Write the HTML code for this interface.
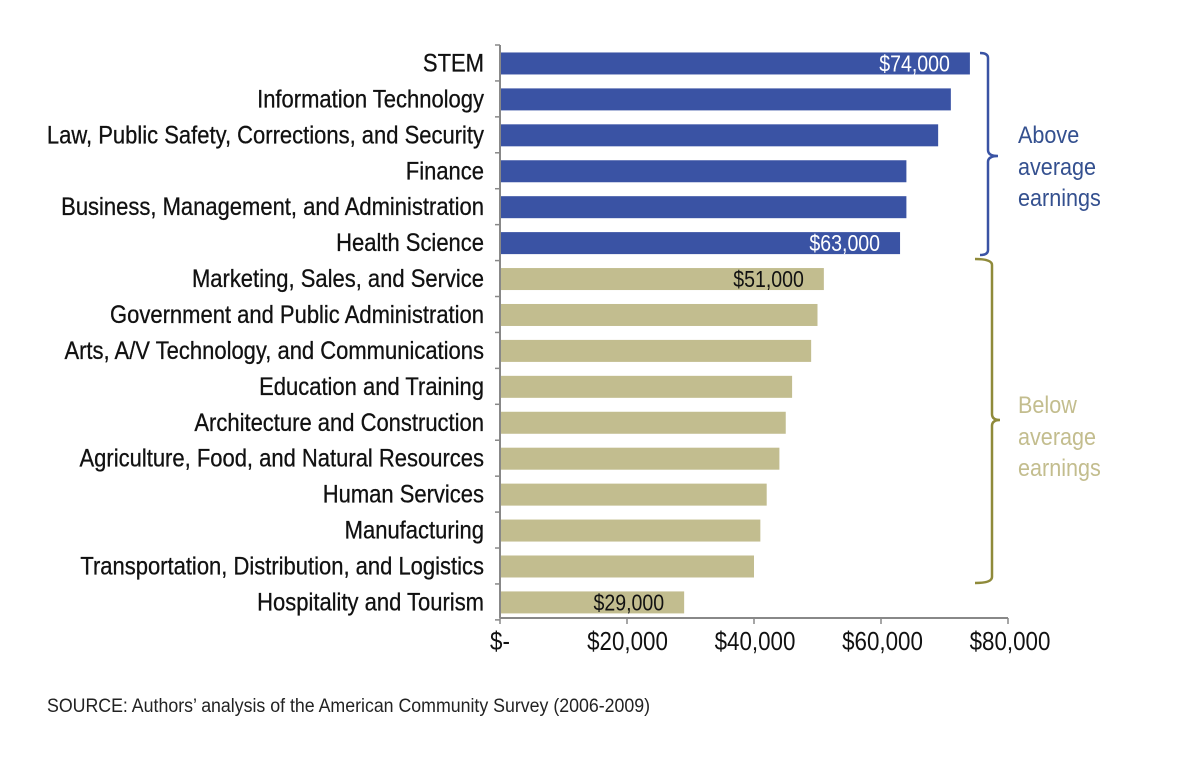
<!DOCTYPE html>
<html><head><meta charset="utf-8"><style>
body{margin:0;background:#fff;}
svg text{font-family:"Liberation Sans",sans-serif;}
</style></head><body>
<svg id="chart" width="1200" height="758" viewBox="0 0 1200 758" xmlns="http://www.w3.org/2000/svg">
<g id="bars"></g>
<g id="labels"></g>
<g id="axis"></g>
<g>
<path d="M980,53 Q988,53 988,58 L988,150 Q988,156 998,156 Q988,156 988,162 L988,250 Q988,255 980,255" fill="none" stroke="#3a53a4" stroke-width="2.5"/>
<text transform="translate(1018,143) scale(0.9,1)" font-size="24" fill="#34508f">Above</text>
<text transform="translate(1018,175) scale(0.9,1)" font-size="24" fill="#34508f">average</text>
<text transform="translate(1018,206) scale(0.9,1)" font-size="24" fill="#34508f">earnings</text>
</g>
<g>
<path d="M975,259 Q992,259 992,265 L992,414 Q992,420 1000,420 Q992,420 992,426 L992,577 Q992,583 975,583" fill="none" stroke="#8f8a3a" stroke-width="2.5"/>
<text transform="translate(1018,413) scale(0.9,1)" font-size="24" fill="#c3bd8e">Below</text>
<text transform="translate(1018,445) scale(0.9,1)" font-size="24" fill="#c3bd8e">average</text>
<text transform="translate(1018,476) scale(0.9,1)" font-size="24" fill="#c3bd8e">earnings</text>
</g>
<text transform="translate(47,712) scale(0.935,1)" font-size="19" fill="#222">SOURCE: Authors’ analysis of the American Community Survey (2006-2009)</text>
</svg>
<script>
const categories=["STEM","Information Technology","Law, Public Safety, Corrections, and Security","Finance","Business, Management, and Administration","Health Science","Marketing, Sales, and Service","Government and Public Administration","Arts, A/V Technology, and Communications","Education and Training","Architecture and Construction","Agriculture, Food, and Natural Resources","Human Services","Manufacturing","Transportation, Distribution, and Logistics","Hospitality and Tourism"];
const values=[74000,71000,69000,64000,64000,63000,51000,50000,49000,46000,45000,44000,42000,41000,40000,29000];
const groups=["above","above","above","above","above","above","below","below","below","below","below","below","below","below","below","below"];
const valueLabels=["$74,000","","","","","$63,000","$51,000","","","","","","","","","$29,000"];
const tickValues=[0,20000,40000,60000,80000];
const tickLabels=["$-","$20,000","$40,000","$60,000","$80,000"];
const NS="http://www.w3.org/2000/svg";
const x0=500,x1=1008,xMax=80000;
const xs=v=>x0+(v/xMax)*(x1-x0);
const rowTop=45,rowStep=35.93;
const yc=i=>rowTop+rowStep*(i+0.5)+0.5;
const bh=22;
function mk(t,a,p){const e=document.createElementNS(NS,t);for(const k in a)e.setAttribute(k,a[k]);p.appendChild(e);return e;}
const gb=document.getElementById('bars'),gl=document.getElementById('labels'),ga=document.getElementById('axis');
categories.forEach((c,i)=>{
  const blue=groups[i]==="above";
  const r=mk('rect',{x:x0+1,y:yc(i)-bh/2,width:xs(values[i])-x0-1,height:bh,fill:blue?"#3a53a4":"#c2bd8f"},gb);
  
  
  const t=mk('text',{transform:`translate(484,${yc(i)+8}) scale(0.88,1)`,'font-size':25,'text-anchor':'end',fill:'#111',stroke:'#111','stroke-width':0.3},gl);
  t.textContent=c;
  
  
  if(valueLabels[i]){
    const vt=mk('text',{transform:`translate(${xs(values[i])-20},${yc(i)+8}) scale(0.85,1)`,'font-size':23,'text-anchor':'end',fill:blue?'#fff':'#111'},gb);
    vt.textContent=valueLabels[i];
    
    
  }
});
const axisY=618;
mk('line',{x1:x0,y1:rowTop,x2:x0,y2:axisY,stroke:'#888','stroke-width':2},ga);
for(let i=0;i<=categories.length;i++){mk('line',{x1:x0-5,y1:rowTop+rowStep*i,x2:x0,y2:rowTop+rowStep*i,stroke:'#888','stroke-width':1.5},ga);}
mk('line',{x1:x0,y1:axisY,x2:x1,y2:axisY,stroke:'#888','stroke-width':2},ga);
tickValues.forEach((v,i)=>{
  mk('line',{x1:xs(v),y1:axisY,x2:xs(v),y2:axisY+6,stroke:'#888','stroke-width':1.5},ga);
  const t=mk('text',{transform:`translate(${xs(v)+i*0.5},${axisY+32}) scale(0.86,1)`,'font-size':26,'text-anchor':'middle',fill:'#111'},ga);
  t.textContent=tickLabels[i];
  
  
});
</script>
</body></html>
